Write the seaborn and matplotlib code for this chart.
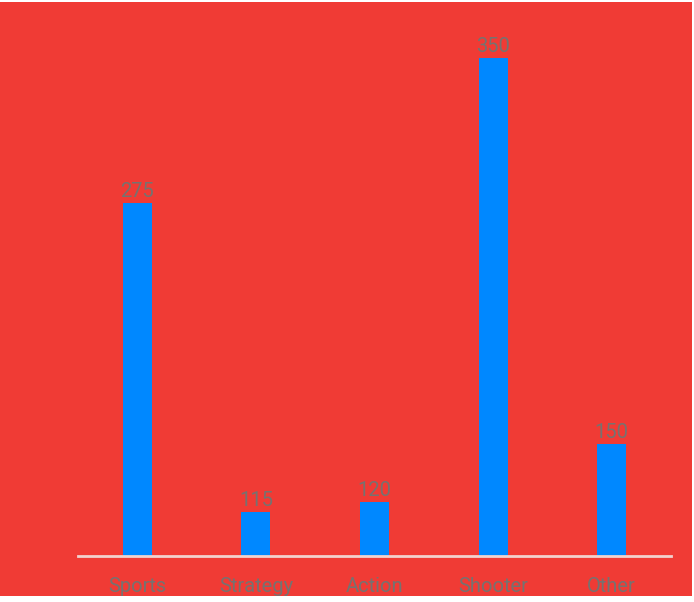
import numpy as np
import pandas as pd
import matplotlib
matplotlib.use('Agg')
import matplotlib.pyplot as plt
import seaborn as sns

genres = ['Sports', 'Strategy', 'Action', 'Shooter', 'Other']
counts = [275, 115, 120, 350, 150]

bg = '#F03B35'
bar_color = '#0088FF'
text_color = '#767270'

sns.set_theme(style='white')
plt.rcParams['font.family'] = ['Roboto', 'DejaVu Sans']

W, H = 694, 602
fig = plt.figure(figsize=(W / 100, H / 100), dpi=100, facecolor='white')

# red panel with a thin white margin
bgax = fig.add_axes([0, 6 / H, 692 / W, 1 - 8 / H], zorder=-1)
bgax.set_facecolor(bg)
bgax.set_xticks([])
bgax.set_yticks([])
for s in bgax.spines.values():
    s.set_visible(False)

ax = fig.add_axes([78 / W, (H - 556) / H, (671 - 78) / W, (556 - 24) / H])
ax.set_facecolor('none')

df = pd.DataFrame({'genre': genres, 'count': counts})
sns.barplot(data=df, x='genre', y='count', color=bar_color, saturation=1,
            width=0.245, linewidth=0, ax=ax)

lo = min(counts) * 0.8
hi = max(counts) * 1.05
ax.set_ylim(lo, hi)
ax.set_xlim(-0.5, len(genres) - 0.5)

for p, v in zip(ax.patches, counts):
    p.set_y(lo)
    p.set_height(v - lo)
    ax.text(p.get_x() + p.get_width() / 2, v + 0.8, str(v), ha='center', va='bottom',
            fontsize=14.5, color=text_color)

ax.set_xlabel('')
ax.set_ylabel('')
ax.set_yticks([])
ax.tick_params(axis='x', length=0, pad=15, labelsize=14.5, labelcolor=text_color)
for s in ['top', 'right', 'left']:
    ax.spines[s].set_visible(False)
ax.spines['bottom'].set_color('#F2D2CE')
ax.spines['bottom'].set_linewidth(2)
ax.spines['bottom'].set_zorder(3)

fig.savefig('out.png', dpi=100, facecolor=fig.get_facecolor())
